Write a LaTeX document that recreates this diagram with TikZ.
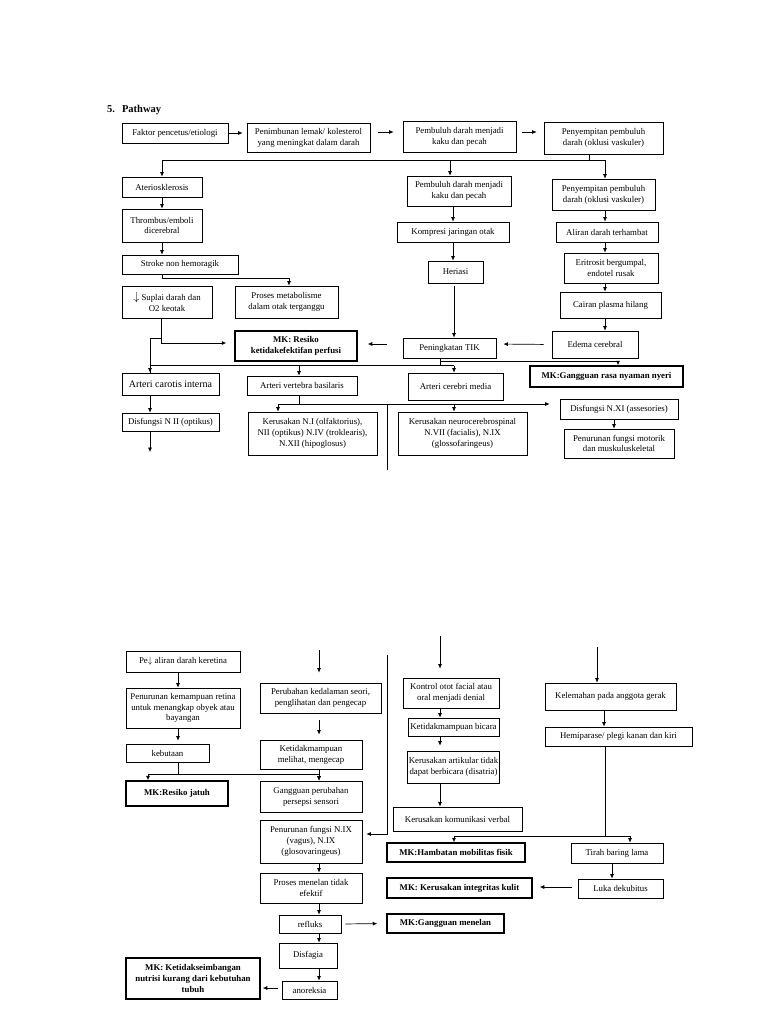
\documentclass[tikz,border=0pt]{standalone}
\usepackage{fontspec}
\setmainfont{Liberation Serif}
\usetikzlibrary{arrows.meta,positioning,calc}

\begin{document}
\begin{tikzpicture}[x=1pt,y=-1pt,every node/.style={font=\fontsize{8.8}{10.8}\selectfont, align=center, inner sep=1pt},
    box/.style={draw, line width=0.7pt},
    mk/.style={draw, line width=1.5pt, font=\fontsize{8.8}{10.8}\selectfont\bfseries},
    arr/.style={-{Latex[length=4.5pt,width=4pt]}, line width=0.7pt},
    line/.style={line width=0.7pt}]
      \useasboundingbox (0,0) rectangle (768,1024);

      \node[anchor=west,inner sep=0pt,font=\fontsize{10.5}{12}\selectfont\bfseries] (judul) at (107,110) {5.\hspace{7pt}Pathway};

      \node[box,minimum width=106pt,minimum height=20pt] (faktor) at (175,133) {Faktor pencetus/etiologi};
      \node[box,minimum width=123pt,minimum height=29pt] (penimbunan) at (308.5,137.5) {Penimbunan lemak/ kolesterol\\yang meningkat dalam darah};
      \node[box,minimum width=113pt,minimum height=31pt] (pembuluhA) at (459.5,136.5) {Pembuluh darah menjadi\\kaku dan pecah};
      \node[box,minimum width=119pt,minimum height=32pt] (penyempitanA) at (603.5,138) {Penyempitan pembuluh\\darah (oklusi vaskuler)};

      \node[box,minimum width=80pt,minimum height=20pt] (aterio) at (162,187) {Ateriosklerosis};
      \node[box,minimum width=80pt,minimum height=33pt] (thrombus) at (162,225.5) {Thrombus/emboli\\dicerebral};
      \node[box,minimum width=116pt,minimum height=19pt] (stroke) at (180,264.5) {Stroke non hemoragik};
      \node[box,minimum width=90pt,minimum height=32pt] (suplai) at (167,302) {{\large$\downarrow$}\ Suplai darah dan\\O2 keotak};
      \node[box,minimum width=103pt,minimum height=32pt] (proses) at (286.5,302) {Proses metabolisme\\dalam otak terganggu};
      \node[mk,minimum width=122pt,minimum height=30pt] (mkperfusi) at (296,346) {MK: Resiko\\ketidakefektifan perfusi};

      \node[box,minimum width=104pt,minimum height=30pt] (pembuluhB) at (459,191) {Pembuluh darah menjadi\\kaku dan pecah};
      \node[box,minimum width=112pt,minimum height=20pt] (kompresi) at (453,232) {Kompresi jaringan otak};
      \node[box,minimum width=55pt,minimum height=22pt] (heriasi) at (455.5,272) {Heriasi};
      \node[box,minimum width=93pt,minimum height=20pt] (tik) at (449.5,348) {Peningkatan TIK};

      \node[box,minimum width=103pt,minimum height=31pt] (penyempitanB) at (603.5,194.5) {Penyempitan pembuluh\\darah (oklusi vaskuler)};
      \node[box,minimum width=102pt,minimum height=20pt] (aliran) at (607,232) {Aliran darah terhambat};
      \node[box,minimum width=94pt,minimum height=30pt] (eritrosit) at (611,268) {Eritrosit bergumpal,\\endotel rusak};
      \node[box,minimum width=101pt,minimum height=26pt] (cairan) at (610.5,305) {Cairan plasma hilang};
      \node[box,minimum width=86pt,minimum height=27pt] (edema) at (595,344.5) {Edema cerebral};
      \node[mk,minimum width=153pt,minimum height=21pt] (mknyeri) at (606.5,376.5) {MK:Gangguan rasa nyaman nyeri};

      \node[box,minimum width=97pt,minimum height=22pt,font=\fontsize{10}{12}\selectfont] (carotis) at (170.5,384) {Arteri carotis interna};
      \node[box,minimum width=110pt,minimum height=19pt] (vertebra) at (302,385.5) {Arteri vertebra basilaris};
      \node[box,minimum width=95pt,minimum height=27pt] (cerebri) at (455.5,386.5) {Arteri cerebri media};
      \node[box,minimum width=97pt,minimum height=18pt] (disfNII) at (170.5,422) {Disfungsi N II (optikus)};
      \node[box,minimum width=129pt,minimum height=43pt] (kerusakanNI) at (312.5,433.5) {Kerusakan N.I (olfaktorius),\\NII (optikus) N.IV (troklearis),\\N.XII (hipoglosus)};
      \node[box,minimum width=129pt,minimum height=43pt] (neuro) at (462.5,433.5) {Kerusakan neurocerebrospinal\\N.VII (facialis), N.IX\\(glossofaringeus)};
      \node[box,minimum width=118pt,minimum height=20pt] (disfNXI) at (619,409) {Disfungsi N.XI (assesories)};
      \node[box,minimum width=110pt,minimum height=29pt] (motorik) at (619,443.5) {Penurunan fungsi motorik\\dan muskuluskeletal};

      \coordinate (nIIout) at (150,452);
      \coordinate (sambungA) at (387,404);
      \coordinate (sambungB) at (387,470);

      \node[box,minimum width=114pt,minimum height=21pt] (aliranretina) at (183,661.5) {Pe$\downarrow$ aliran darah keretina};
      \node[box,minimum width=114pt,minimum height=40pt] (retina) at (183,708) {Penurunan kemampuan retina\\untuk menangkap obyek atau\\bayangan};
      \node[box,minimum width=83pt,minimum height=18pt] (kebutaan) at (167.5,753) {kebutaan};
      \node[mk,minimum width=102pt,minimum height=25pt] (mkjatuh) at (177,793.5) {MK:Resiko jatuh};

      \node[box,minimum width=121pt,minimum height=30pt] (perubahan) at (320.5,698) {Perubahan kedalaman seori,\\penglihatan dan pengecap};
      \node[box,minimum width=102pt,minimum height=29pt] (melihat) at (311,754.5) {Ketidakmampuan\\melihat, mengecap};
      \node[box,minimum width=102pt,minimum height=31pt] (persepsi) at (311,796.5) {Gangguan perubahan\\persepsi sensori};
      \node[box,minimum width=102pt,minimum height=43pt] (nIX) at (311,841.5) {Penurunan fungsi N.IX\\(vagus), N.IX\\(glosovaringeus)};
      \node[box,minimum width=102pt,minimum height=30pt] (menelan) at (311,888) {Proses menelan tidak\\efektif};
      \node[box,minimum width=62pt,minimum height=18pt] (refluks) at (310,924) {refluks};
      \node[box,minimum width=58pt,minimum height=25pt] (disfagia) at (308,955.5) {Disfagia};
      \node[box,minimum width=55pt,minimum height=18pt] (anoreksia) at (309.5,990) {anoreksia};
      \node[mk,minimum width=134pt,minimum height=41pt] (mknutrisi) at (193,978.5) {MK: Ketidakseimbangan\\nutrisi kurang dari kebutuhan\\tubuh};
      \node[mk,minimum width=117pt,minimum height=19pt] (mkmenelan) at (445.5,923.5) {MK:Gangguan menelan};

      \node[box,minimum width=96pt,minimum height=30pt] (kontrol) at (451,693) {Kontrol otot facial atau\\oral menjadi denial};
      \node[box,minimum width=91pt,minimum height=18pt] (bicara) at (453.5,727) {Ketidakmampuan bicara};
      \node[box,minimum width=91pt,minimum height=32pt] (artikular) at (453.5,767) {Kerusakan artikular tidak\\dapat berbicara (disatria)};
      \node[box,minimum width=129pt,minimum height=24pt] (komunikasi) at (457.5,819) {Kerusakan komunikasi verbal};

      \node[box,minimum width=131pt,minimum height=27pt] (kelemahan) at (610.5,696.5) {Kelemahan pada anggota gerak};
      \node[box,minimum width=147pt,minimum height=19pt] (hemiparase) at (618.5,736.5) {Hemiparase/ plegi kanan dan kiri};
      \node[mk,minimum width=138pt,minimum height=19pt] (mkmobilitas) at (456,852.5) {MK:Hambatan mobilitas fisik};
      \node[box,minimum width=92pt,minimum height=20pt] (tirah) at (617,853) {Tirah baring lama};
      \node[box,minimum width=85pt,minimum height=19pt] (luka) at (620.5,888.5) {Luka dekubitus};
      \node[mk,minimum width=145pt,minimum height=20pt] (mkkulit) at (459.5,888) {MK: Kerusakan integritas kulit};

      \coordinate (sambungC) at (387,655);
      \coordinate (masukB) at (319,650);
      \coordinate (masukC) at (440,636);
      \coordinate (masukD) at (597,647);

      \draw[arr,shorten >=4pt] (faktor.east) -- ([yshift=4.5pt]penimbunan.west);
      \draw[arr,shorten <=8pt,shorten >=9pt] ([yshift=5.5pt]penimbunan.east) -- ([yshift=4.5pt]pembuluhA.west);
      \draw[arr,shorten <=6pt,shorten >=7pt] ([yshift=4.5pt]pembuluhA.east) -- ([yshift=6pt]penyempitanA.west);

      \draw[arr] ([xshift=-14.5pt]penyempitanA.south) -- ++(0,-6pt) -| (aterio.north);
      \draw[arr] ([xshift=-14.5pt]penyempitanA.south) ++(0,-6pt) -| ([xshift=1.5pt]penyempitanB.north);
      \draw[arr] ([xshift=-9pt]pembuluhB.north) ++(0,16pt) -- ([xshift=-9pt]pembuluhB.north);

      \draw[arr] (aterio) -- (thrombus);
      \draw[arr] (thrombus.south) -- ([xshift=-18pt]stroke.north);
      \draw[arr] ([xshift=-18pt]stroke.south) -- ++(0,-4pt) -| ([xshift=2.5pt]proses.north);
      \draw[arr,shorten >=8pt] ([xshift=-6pt]suplai.south) |- ([yshift=3pt]mkperfusi.west);
      \draw[line] ([xshift=-6pt]suplai.south) ++(0,-20pt) -| ([xshift=-20.5pt]carotis.north);

      \draw[arr] ([xshift=-6pt]pembuluhB.south) -- (kompresi.north);
      \draw[arr] (kompresi.south) -- ([xshift=-2.5pt]heriasi.north);
      \draw[arr,shorten <=3pt] ([xshift=-1.5pt]heriasi.south) -- ([xshift=4.5pt]tik.north);
      \draw[arr,shorten <=16pt,shorten >=10pt] ([yshift=4pt]tik.west) -- ([yshift=2pt]mkperfusi.east);

      \draw[arr] ([xshift=1.5pt]penyempitanB.south) -- ([xshift=-2pt]aliran.north);
      \draw[arr] ([xshift=-2pt]aliran.south) -- ([xshift=-6pt]eritrosit.north);
      \draw[arr] ([xshift=-6pt]eritrosit.south) -- ([xshift=-5.5pt]cairan.north);
      \draw[arr] ([xshift=-5.5pt]cairan.south) -- ([xshift=10pt]edema.north);
      \draw[arr,shorten <=8pt,shorten >=7pt] (edema.west) -- ([yshift=4pt]tik.east);

      \draw[line] ([xshift=-9.5pt]tik.south) -- ++(0,-8pt);
      \draw[arr] ([xshift=-9.5pt]tik.south) ++(0,-3pt) -| ([xshift=11.5pt]mknyeri.north);
      \draw[arr] ([xshift=-1.5pt]cerebri.north) ++(0,7pt) -| ([xshift=-20.5pt]carotis.north);
      \draw[arr] ([xshift=-1.5pt]cerebri.north) ++(0,7pt) -- ([xshift=-1.5pt]cerebri.north);
      \draw[arr] ([xshift=-3pt]vertebra.north) ++(0,10pt) -- ([xshift=-3pt]vertebra.north);

      \draw[arr] ([xshift=-20.5pt]carotis.south) -- ([xshift=-20.5pt]disfNII.north);
      \draw[arr] ([xshift=-20.5pt]disfNII.south) -- (nIIout);
      \draw[arr,shorten >=10pt] ([xshift=-3pt]vertebra.south) |- ([yshift=5pt]disfNXI.west);
      \draw[arr] ([xshift=-3pt]vertebra.south) ++(0,-9pt) -| ([xshift=-34.5pt]kerusakanNI.north);
      \draw[arr] ([xshift=-8.5pt]neuro.north) ++(0,8pt) -- ([xshift=-8.5pt]neuro.north);
      \draw[line] (sambungA) -- (sambungB);
      \draw[arr] ([xshift=-5pt]disfNXI.south) -- ([xshift=-5pt]motorik.north);

      \draw[arr] ([xshift=-5pt]aliranretina.south) -- ([xshift=-5pt]retina.north);
      \draw[arr,shorten >=3pt] ([xshift=-5pt]retina.south) -- ([xshift=10.5pt]kebutaan.north);
      \draw[arr] ([xshift=10.5pt]kebutaan.south) -- ++(0,-12pt) -| ([xshift=-29pt]mkjatuh.north);
      \draw[arr] ([xshift=10.5pt]kebutaan.south) ++(0,-12pt) -| ([xshift=8pt]persepsi.north);

      \draw[arr,shorten >=10pt] (masukB) -- ([xshift=-1.5pt]perubahan.north);
      \draw[arr,shorten <=7pt,shorten >=5pt] ([xshift=-1.5pt]perubahan.south) -- ([xshift=8pt]melihat.north);
      \draw[arr] ([xshift=8pt]melihat.south) -- ([xshift=8pt]persepsi.north);
      \draw[arr,shorten >=4pt] (sambungC) |- ([yshift=7.5pt]nIX.east);
      \draw[arr] ([xshift=8pt]nIX.south) -- ([xshift=8pt]menelan.north);
      \draw[arr] ([xshift=8pt]menelan.south) -- ([xshift=9pt]refluks.north);
      \draw[arr] ([xshift=9pt]refluks.south) -- ([xshift=11pt]disfagia.north);
      \draw[arr] ([xshift=11pt]disfagia.south) -- ([xshift=9.5pt]anoreksia.north);
      \draw[arr,shorten <=4pt,shorten >=2pt] ([yshift=2pt]anoreksia.west) -- ([yshift=-9.5pt]mknutrisi.east);
      \draw[arr,shorten <=4pt,shorten >=9pt] (refluks.east) -- (mkmenelan.west);

      \draw[arr,shorten >=9pt] (masukC) -- ([xshift=-11pt]kontrol.north);
      \draw[arr] ([xshift=-11pt]kontrol.south) -- ([xshift=-13.5pt]bicara.north);
      \draw[arr,shorten >=5pt] ([xshift=-13.5pt]bicara.south) -- ([xshift=-13.5pt]artikular.north);
      \draw[arr] ([xshift=-13.5pt]artikular.south) -- ([xshift=-17.5pt]komunikasi.north);

      \draw[arr] (masukD) -- ([xshift=-13.5pt]kelemahan.north);
      \draw[arr] ([xshift=-6.5pt]kelemahan.south) -- ([xshift=-14.5pt]hemiparase.north);
      \draw[arr] ([xshift=-13.5pt]hemiparase.south) -- ++(0,-90pt) -| ([xshift=-2pt]mkmobilitas.north);
      \draw[arr] ([xshift=-13.5pt]hemiparase.south) ++(0,-90pt) -| ([xshift=13pt]tirah.north);
      \draw[arr] ([xshift=-5pt]tirah.south) -- ([xshift=-8.5pt]luka.north);
      \draw[arr,shorten <=6pt,shorten >=7pt] ([yshift=1.5pt]luka.west) -- ([yshift=1pt]mkkulit.east);
    \end{tikzpicture}
\end{document}
